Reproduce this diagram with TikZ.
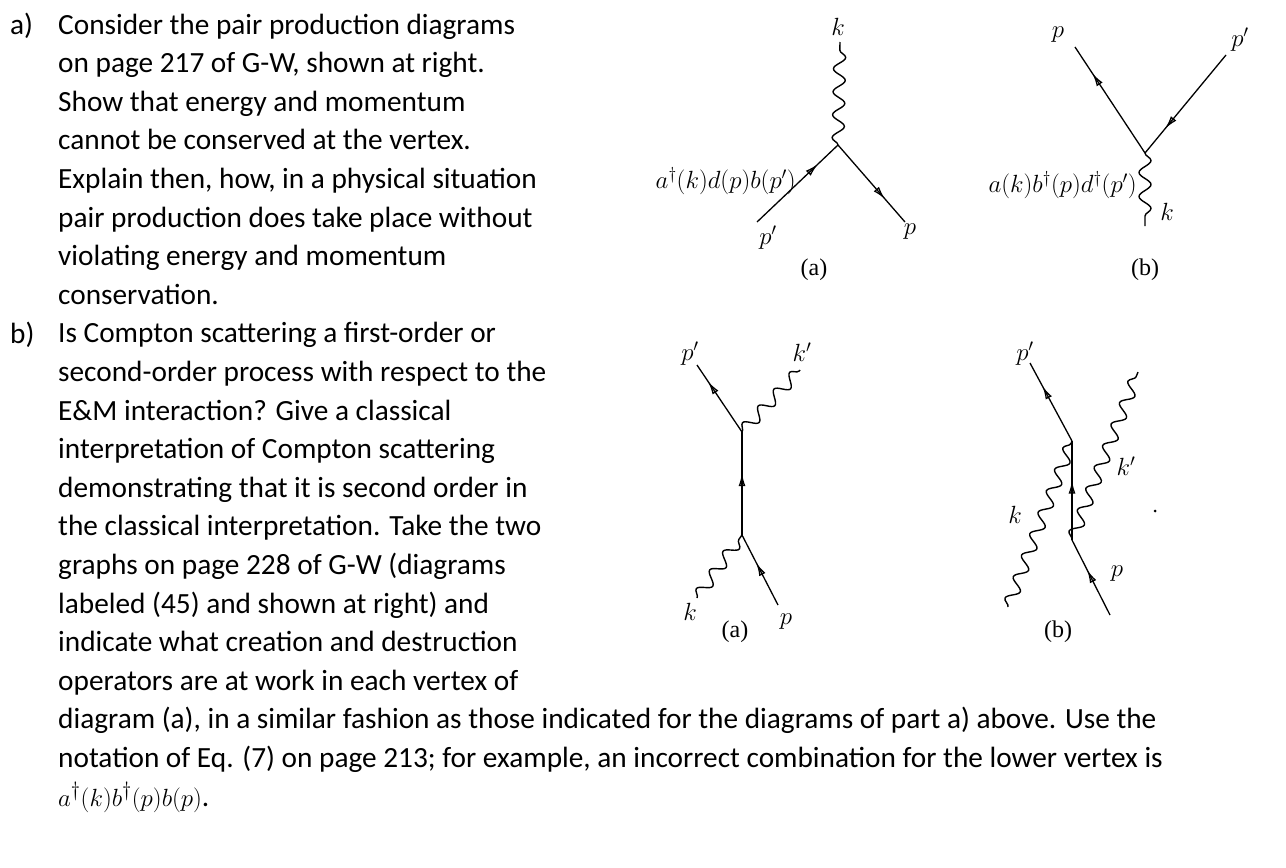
\documentclass[tikz,border=0pt]{standalone}
\usepackage{fontspec}
\setmainfont{Carlito}
\newfontfamily\capfont{Liberation Serif}
\usetikzlibrary{decorations.pathmorphing,decorations.markings,arrows.meta}
\begin{document}
\begin{tikzpicture}[x=1pt,y=-1pt,
  txt/.style={anchor=base west,inner sep=0pt,font=\fontsize{29.3}{32}\selectfont},
  lbl/.style={inner sep=1pt,font=\fontsize{24}{26}\selectfont},
  oplbl/.style={lbl,anchor=east,font=\fontsize{27}{30}\selectfont},
  capstyle/.style={inner sep=1pt,font=\capfont\fontsize{24}{26}\selectfont},
  ferm/.style={line width=1.3pt},
  marr/.style={ferm,postaction={decorate},decoration={markings,mark=at position #1 with {\arrow{Latex[open,length=13pt,width=7pt]}}}},
  phot/.style={line width=1.4pt,decorate,decoration={snake,segment length=23pt,amplitude=6pt}}]
\useasboundingbox (0,0) rectangle (1286,868);
% ---- text ----
\node[txt] (la) at (10,34) {a)};
\node[txt] (lb) at (10,343) {b)};
\foreach \i/\t in {0/{Consider the pair production diagrams},
 1/{on page 217 of G-W, shown at right.},
 2/{Show that energy and momentum},
 3/{cannot be conserved at the vertex.},
 4/{Explain then, how, in a physical situation},
 5/{pair production does take place without},
 6/{violating energy and momentum},
 7/{conservation.},
 8/{Is Compton scattering a first-order or},
 9/{second-order process with respect to the},
 10/{E\&M interaction? Give a classical},
 11/{interpretation of Compton scattering},
 12/{demonstrating that it is second order in},
 13/{the classical interpretation. Take the two},
 14/{graphs on page 228 of G-W (diagrams},
 15/{labeled (45) and shown at right) and},
 16/{indicate what creation and destruction},
 17/{operators are at work in each vertex of},
 18/{diagram (a), in a similar fashion as those indicated for the diagrams of part a) above. Use the},
 19/{notation of Eq. (7) on page 213; for example, an incorrect combination for the lower vertex is},
 20/{$a^{\dagger}(k)b^{\dagger}(p)b(p)$.}}
 \node[txt] (t\i) at (58,34+38.6*\i) {\t};
% ---- pair production (a) ----
\coordinate (va) at (838,145);
\coordinate (ka) at (840,42);
\coordinate (pa1) at (757,222);
\coordinate (pa2) at (905,222);
\draw[phot] (va) -- (ka);
\draw[marr=0.75] (pa1) -- (va);
\draw[marr=0.7] (va) -- (pa2);
\node[lbl] (kal) at (838,27) {$k$};
\node[lbl] (pal1) at (768,238) {$p'$};
\node[lbl] (pal2) at (910,232) {$p$};
\node[oplbl] (opa) at (797,181) {$a^{\dagger}(k)d(p)b(p')$};
\node[capstyle] (capa) at (814,270) {(a)};
% ---- pair production (b) ----
\coordinate (vb) at (1145,153);
\coordinate (pb1) at (1075,47);
\coordinate (pb2) at (1226,55);
\coordinate (kb) at (1145,226);
\draw[marr=0.75] (vb) -- (pb1);
\draw[marr=0.75] (pb2) -- (vb);
\draw[phot,decoration={snake,segment length=24pt,amplitude=6pt}] (vb) -- (kb);
\node[lbl] (pbl1) at (1058,35) {$p$};
\node[lbl] (pbl2) at (1240,40) {$p'$};
\node[lbl] (kbl) at (1167,212) {$k$};
\node[oplbl] (opb) at (1138,185) {$a(k)b^{\dagger}(p)d^{\dagger}(p')$};
\node[capstyle] (capb) at (1145,270) {(b)};
% ---- Compton (a) ----
\coordinate (ca1) at (742,432);
\coordinate (ca2) at (742,535);
\coordinate (cpo) at (697,365);
\coordinate (cko) at (800,370);
\coordinate (cki) at (697,598);
\coordinate (cpi) at (778,605);
\draw[marr=0.75] (ca1) -- (cpo);
\draw[marr=0.6] (ca2) -- (ca1);
\draw[marr=0.6] (cpi) -- (ca2);
\draw[phot] (ca1) -- (cko);
\draw[phot] (cki) -- (ca2);
\node[lbl] (cpol) at (690,354) {$p'$};
\node[lbl] (ckol) at (802,352) {$k'$};
\node[lbl] (ckil) at (690,612) {$k$};
\node[lbl] (cpil) at (786,622) {$p$};
\node[capstyle] (ccapa) at (735,632) {(a)};
% ---- Compton (b) ----
\coordinate (cb1) at (1072,441);
\coordinate (cb2) at (1072,540);
\coordinate (dpo) at (1030,363);
\coordinate (dpi) at (1110,615);
\coordinate (dki) at (1008,607);
\coordinate (dko) at (1138,372);
\draw[marr=0.7] (cb1) -- (dpo);
\draw[marr=0.6] (cb2) -- (cb1);
\draw[marr=0.6] (dpi) -- (cb2);
\draw[phot] (dki) -- (cb1);
\draw[phot] (cb2) -- (dko);
\node[lbl] (dpol) at (1025,354) {$p'$};
\node[lbl] (dkol) at (1126,466) {$k'$};
\node[lbl] (dkil) at (1015,515) {$k$};
\node[lbl] (dpil) at (1117,574) {$p$};
\node[capstyle] (ccapb) at (1058,632) {(b)};
\fill (1155,511) circle (1.5pt);
\end{tikzpicture}
\end{document}
